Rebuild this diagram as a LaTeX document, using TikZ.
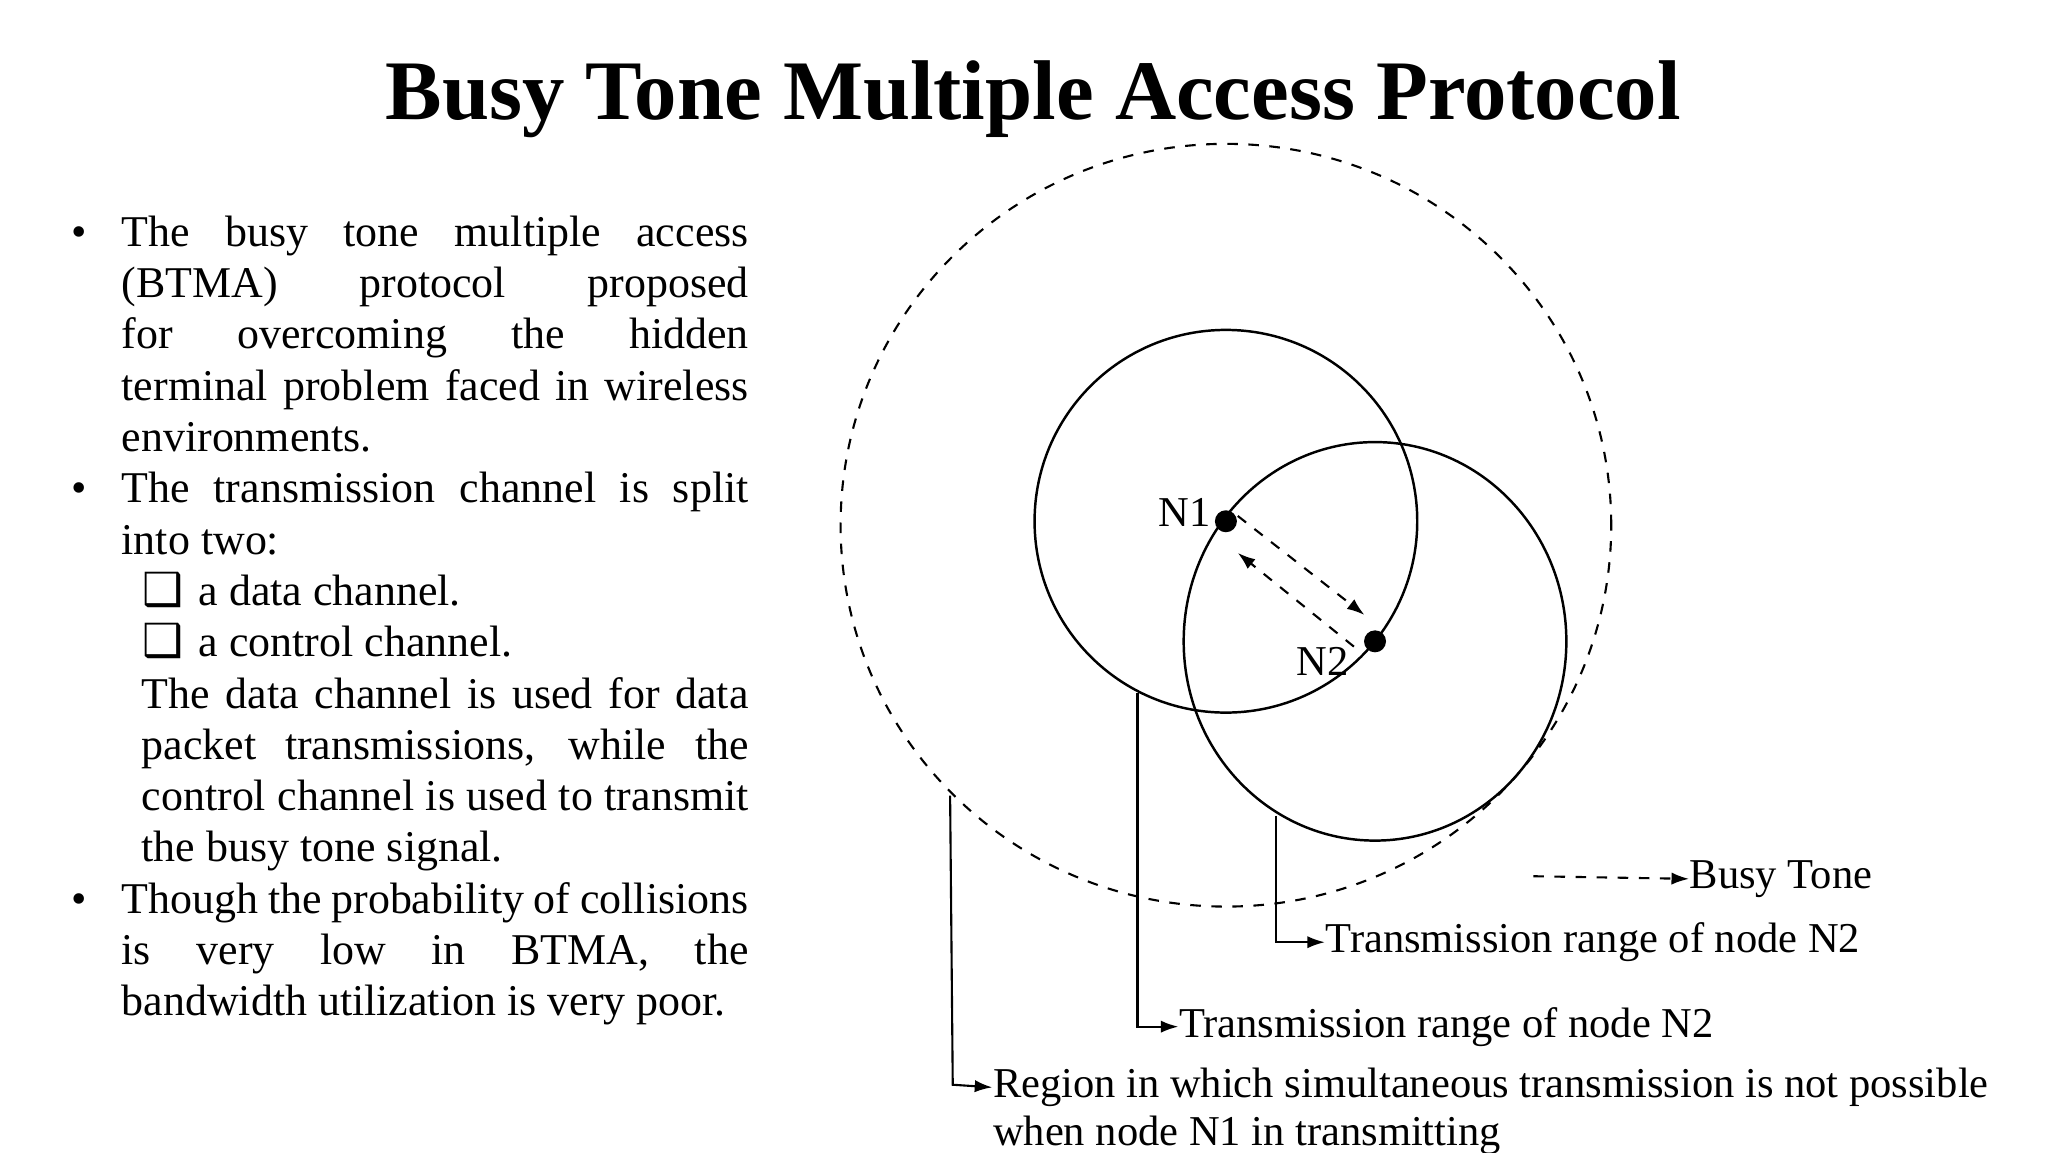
\documentclass[tikz,border=0pt]{standalone}
\usepackage{fontspec}
\setmainfont{Liberation Serif}
\newfontfamily\dejavu{DejaVu Sans}
\usepackage{enumitem}
\usetikzlibrary{arrows.meta}
\begin{document}
\begin{tikzpicture}[x=0.0132cm,y=-0.0132cm,
  lbl/.style={font=\fontsize{12.1}{14.6}\selectfont,inner sep=0,anchor=west},
  lead/.style={-{Latex[length=5pt,width=3.5pt]},line width=0.6pt},
  dot/.style={circle,fill=black,inner sep=0,minimum size=0.22cm}]
\useasboundingbox (0,0) rectangle (1552,873);
\node (title) at (783,75) {\resizebox{12.95cm}{!}{\bfseries Busy Tone Multiple Access Protocol}};
\node[anchor=north west,inner sep=0] (body) at (44,163) {\begin{minipage}{6.9cm}
\fontsize{12.5}{14.6}\selectfont\hyphenpenalty=10000\exhyphenpenalty=10000
\begin{itemize}[leftmargin=0.63cm,labelsep=0.35cm,itemsep=0pt,parsep=0pt,topsep=0pt]
\item The busy tone multiple access (BTMA) protocol proposed for overcoming the hidden terminal problem faced in wireless environments.
\item The transmission channel is split into two:
\begin{itemize}[leftmargin=0.77cm,labelsep=0.15cm,itemsep=0pt,parsep=0pt,topsep=0pt,label={\dejavu\fontsize{13}{13}\selectfont ❑}]
\item a data channel.
\item a control channel.
\end{itemize}
\par{\leftskip=0.2cm\noindent The data channel is used for data packet transmissions, while the control channel is used to transmit the busy tone signal.\par}
\item Though the probability of collisions is very low in BTMA, the bandwidth utilization is very poor.
\end{itemize}
\end{minipage}};
% circles
\draw[dashed,line width=0.6pt] (929,398) circle[x radius=292, y radius=-289];
\draw[line width=0.7pt] (929,395) circle[x radius=145, y radius=-145];
\draw[line width=0.7pt] (1042,486) circle[x radius=145, y radius=-151];
\node[dot] (n1) at (929,395) {};
\node[dot] (n2) at (1042,486) {};
\node[lbl,anchor=east] (n1l) at (918,388) {N1};
\node[lbl] (n2l) at (982,501) {N2};
\coordinate (a1) at (938,391); \coordinate (a2) at (1034,466);
\coordinate (b1) at (1026,490); \coordinate (b2) at (938,419);
\draw[dashed,lead] (a1) -- (a2);
\draw[dashed,lead] (b1) -- (b2);
% legend
\coordinate (bt) at (1162,664);
\node[lbl] (btl) at (1280,666) {Busy Tone};
\draw[dashed,lead] (bt) -- (btl.west);
% leaders
\coordinate (c2) at (967,618);
\node[lbl] (t2) at (1004,714) {Transmission range of node N2};
\draw[lead] (c2) |- (t2.west);
\coordinate (c1) at (862,525);
\node[lbl] (t1) at (893,778) {Transmission range of node N2};
\draw[lead] (c1) |- (t1.west);
\coordinate (c0) at (720,603);
\node[lbl] (t0) at (752,824) {Region in which simultaneous transmission is not possible};
\node[lbl] (t0b) at (752,860) {when node N1 in transmitting};
\draw[lead] (c0) -- (722,822) -- (t0.west);
\end{tikzpicture}
\end{document}
